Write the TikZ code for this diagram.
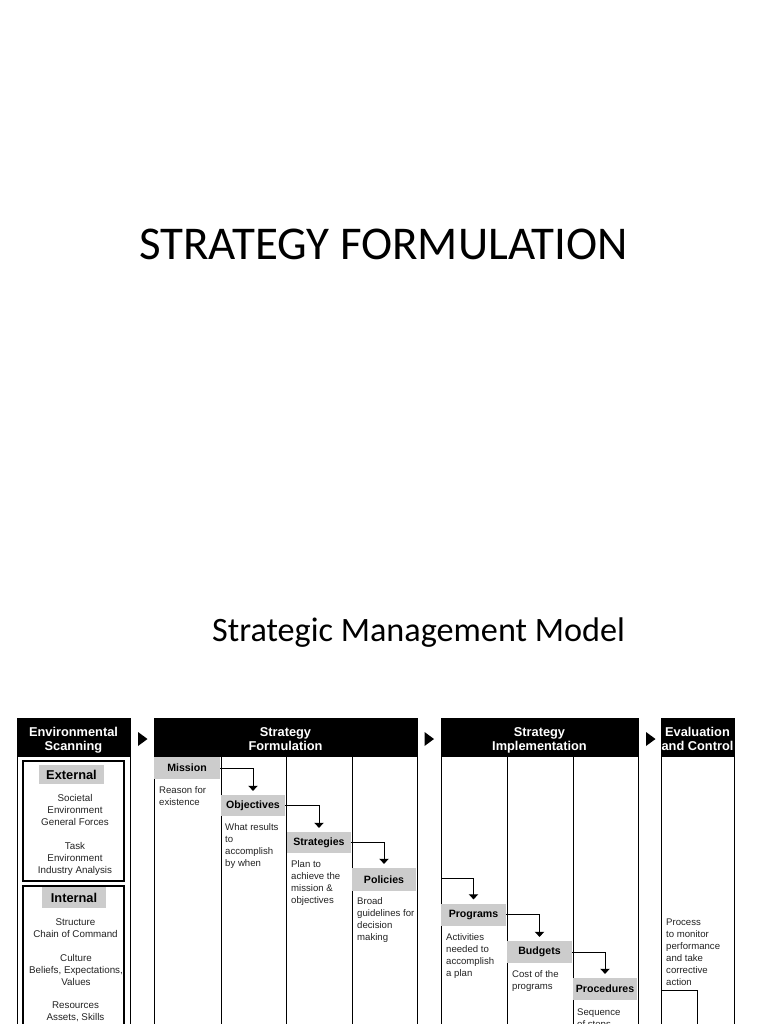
\documentclass[tikz,border=0pt]{standalone}
\usepackage{fontspec}
\setmainfont{Liberation Sans}
\newfontfamily\titlefont{Carlito}
\usetikzlibrary{arrows.meta}
\definecolor{lbl}{HTML}{CCCCCC}
\definecolor{bodytxt}{HTML}{222222}
\begin{document}
\begin{tikzpicture}[x=1pt,y=-1pt,
  hdr/.style={fill=black,draw=black,text=white,inner sep=0pt,align=center,
    font=\bfseries\fontsize{12.8}{14}\selectfont},
  colline/.style={draw=black,line width=1pt},
  boxline/.style={draw=black,line width=1.1pt},
  lblbox/.style={fill=lbl,inner sep=0pt,font=\bfseries\fontsize{10.6}{12}\selectfont},
  envlbl/.style={fill=lbl,inner sep=0pt,font=\bfseries\fontsize{12.8}{14}\selectfont},
  ctxt/.style={inner sep=0pt,align=center,text=bodytxt,font=\fontsize{9.8}{12.4}\selectfont},
  ltxt/.style={inner sep=0pt,align=left,anchor=west,text=bodytxt,font=\fontsize{9.6}{12}\selectfont},
  conn/.style={draw=black,line width=1pt,-{Triangle[width=9.5pt,length=5pt]},shorten >=4pt},
  tri/.style={fill=black}
]
\useasboundingbox (0,0) rectangle (768,1024);
\clip (0,0) rectangle (768,1024);

% titles
\node[anchor=base,font=\titlefont\fontsize{47}{56}\selectfont] (title) at (383.5,259) {STRATEGY FORMULATION};
\node[anchor=base,font=\titlefont\fontsize{34.2}{40}\selectfont] (subtitle) at (418.5,641) {Strategic Management Model};

% ---------- Environmental Scanning ----------
\draw[colline] (17,756) -- (17,1030);
\draw[colline] (130,756) -- (130,1030);
\node[hdr,minimum width=113pt,minimum height=38pt] (envh) at (73.5,737) {};
\node[hdr,fill=none,draw=none] (envht) at (73.5,740) {Environmental\\Scanning\vphantom{g}};
\draw[boxline] (23,761) rectangle (124,881);
\draw[boxline] (23,886) rectangle (124,1035);
\node[envlbl,minimum width=65pt,minimum height=19pt] (ext) at (71.5,774.5) {External};
\node[envlbl,minimum width=64pt,minimum height=21pt] (int) at (74,897.5) {Internal};
\node[ctxt] (soc) at (75,810) {Societal\\Environment\\General Forces};
\node[ctxt] (task) at (75,859) {Task\\Environment\\Industry Analysis};
\node[ctxt] (struct) at (75.5,928) {Structure\\Chain of Command};
\node[ctxt] (cult) at (76,970) {Culture\\Beliefs, Expectations,\\Values};
\node[ctxt] (res) at (75.5,1011.5) {Resources\\Assets, Skills};

% ---------- Strategy Formulation ----------
\foreach \x in {154,221,286,352,417} \draw[colline] (\x,756) -- (\x,1030);
\node[hdr,minimum width=263pt,minimum height=38pt] (formh) at (285.5,737) {};
\node[hdr,fill=none,draw=none] (formht) at (285.5,740) {Strategy\\Formulation\vphantom{g}};
\node[lblbox,minimum width=66pt,minimum height=22pt] (mission) at (187,768) {Mission};
\node[lblbox,minimum width=64pt,minimum height=21pt] (objectives) at (253,805.5) {Objectives};
\node[lblbox,minimum width=64pt,minimum height=21pt] (strategies) at (319,842.5) {Strategies};
\node[lblbox,minimum width=64pt,minimum height=23pt] (policies) at (384,879.5) {Policies};
\node[ltxt] (missiont) at (159,796.5) {Reason for\\existence};
\node[ltxt] (objt) at (225,846.5) {What results\\to\\accomplish\\by when};
\node[ltxt] (stratt) at (291,883.5) {Plan to\\achieve the\\mission \&\\objectives};
\node[ltxt] (polt) at (357,920.5) {Broad\\guidelines for\\decision\\making};
\draw[conn] (mission.east) -| (objectives.north);
\draw[conn] (objectives.east) -| (strategies.north);
\draw[conn] (strategies.east) -| (policies.north);

% ---------- Strategy Implementation ----------
\foreach \x in {441,507,573,638} \draw[colline] (\x,756) -- (\x,1030);
\node[hdr,minimum width=197pt,minimum height=38pt] (implh) at (539.5,737) {};
\node[hdr,fill=none,draw=none] (implht) at (539.5,740) {Strategy\\Implementation\vphantom{g}};
\node[lblbox,minimum width=65pt,minimum height=22pt] (programs) at (473.5,914.5) {Programs};
\node[lblbox,minimum width=65pt,minimum height=22pt] (budgets) at (539.5,952) {Budgets};
\node[lblbox,minimum width=64pt,minimum height=22pt] (procedures) at (605,989) {Procedures};
\node[ltxt] (progt) at (446,956.5) {Activities\\needed to\\accomplish\\a plan};
\node[ltxt] (budt) at (512,981.5) {Cost of the\\programs};
\node[ltxt] (proct) at (577,1019.5) {Sequence\\of steps};
\coordinate (pp) at (441,878);
\draw[conn] (pp) -| (programs.north);
\draw[conn] (programs.east) -| (budgets.north);
\draw[conn] (budgets.east) -| (procedures.north);

% ---------- Evaluation and Control ----------
\foreach \x in {661,734} \draw[colline] (\x,756) -- (\x,1030);
\node[hdr,minimum width=73pt,minimum height=38pt] (evalh) at (697.5,737) {};
\node[hdr,fill=none,draw=none] (evalht) at (697.5,740) {Evaluation\\and Control\vphantom{g}};
\node[ltxt] (evalt) at (666,952) {Process\\to monitor\\performance\\and take\\corrective\\action};
\coordinate (ev1) at (661,990);
\coordinate (ev2) at (697,1030);
\draw[colline] (ev1) -| (ev2);

% ---------- flow triangles ----------
\fill[tri] (138,732) -- (147.5,739) -- (138,746) -- cycle;
\fill[tri] (424.5,732) -- (434,739) -- (424.5,746) -- cycle;
\fill[tri] (646,732) -- (655.5,739) -- (646,746) -- cycle;
\end{tikzpicture}
\end{document}
